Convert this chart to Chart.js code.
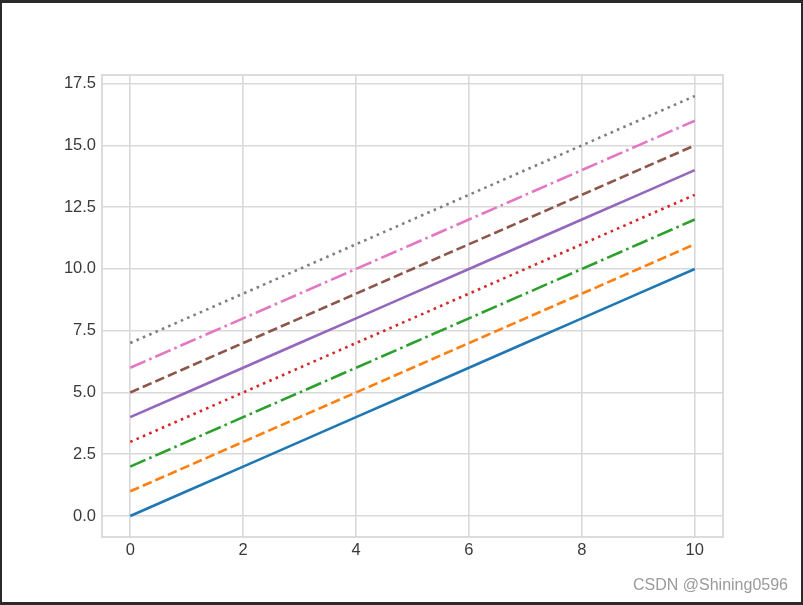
<!DOCTYPE html>
<html lang="en">
<head>
  <meta charset="UTF-8">
  <title>Lines with different styles</title>
  <script src="https://cdn.jsdelivr.net/npm/chart.js"></script>
  <style>
    html, body {
      margin: 0;
      padding: 0;
      background: #ffffff;
    }
    #frame {
      position: relative;
      width: 803px;
      height: 605px;
      box-sizing: border-box;
      border-top: 3px solid #2a2a2a;
      border-left: 2px solid #2a2a2a;
      border-right: 2px solid #2a2a2a;
      border-bottom: 3px solid #2a2a2a;
      overflow: hidden;
    }
    #chart {
      position: absolute;
      left: -2px;
      top: -3px;
    }
    #mark {
      position: absolute;
      right: 13px;
      bottom: 8px;
      font-family: "Liberation Sans", Arial, sans-serif;
      font-size: 16px;
      color: #9a9a9a;
    }
  </style>
</head>
<body>
  <div id="frame">
    <canvas id="chart" width="803" height="605"></canvas>
    <div id="mark">CSDN @Shining0596</div>
  </div>

  <script>
    // x values shared by every line
    const xValues = [0, 1, 2, 3, 4, 5, 6, 7, 8, 9, 10];

    // one series per line
    const line0 = [0, 1, 2, 3, 4, 5, 6, 7, 8, 9, 10];
    const line1 = [1, 2, 3, 4, 5, 6, 7, 8, 9, 10, 11];
    const line2 = [2, 3, 4, 5, 6, 7, 8, 9, 10, 11, 12];
    const line3 = [3, 4, 5, 6, 7, 8, 9, 10, 11, 12, 13];
    const line4 = [4, 5, 6, 7, 8, 9, 10, 11, 12, 13, 14];
    const line5 = [5, 6, 7, 8, 9, 10, 11, 12, 13, 14, 15];
    const line6 = [6, 7, 8, 9, 10, 11, 12, 13, 14, 15, 16];
    const line7 = [7, 8, 9, 10, 11, 12, 13, 14, 15, 16, 17];

    const xTicks = [0, 2, 4, 6, 8, 10];
    const yTicks = [0, 2.5, 5, 7.5, 10, 12.5, 15, 17.5];

    const series = [line0, line1, line2, line3, line4, line5, line6, line7];
    const colors = ["#1f77b4", "#ff7f0e", "#2ca02c", "#d62728", "#9467bd", "#8c564b", "#e377c2", "#7f7f7f"];
    // solid, dashed, dash-dot, dotted (matplotlib patterns, scaled up a bit)
    const dashes = [[], [9.6, 4.1], [16.6, 4.1, 2.6, 4.1], [2.6, 4.3]];

    const datasets = series.map((values, i) => ({
      data: values.map((v, j) => ({ x: xValues[j], y: v })),
      borderColor: colors[i],
      borderWidth: 2.6,
      borderDash: dashes[i % 4],
      borderCapStyle: "butt",
      pointRadius: 0,
      fill: false,
      tension: 0
    }));

    // matplotlib style box around the plot area
    const boxPlugin = {
      id: "box",
      afterDraw(chart) {
        const a = chart.chartArea;
        const ctx = chart.ctx;
        ctx.save();
        ctx.strokeStyle = "#d6d6d6";
        ctx.lineWidth = 1.7;
        ctx.strokeRect(a.left, a.top, a.right - a.left, a.bottom - a.top);
        ctx.restore();
      }
    };

    const tickFont = { family: "'Liberation Sans', Arial, sans-serif", size: 16.5 };

    new Chart(document.getElementById("chart"), {
      type: "line",
      data: { datasets: datasets },
      options: {
        responsive: false,
        animation: false,
        layout: { padding: { left: 0, top: 75, right: 80, bottom: 0 } },
        plugins: {
          legend: { display: false },
          tooltip: { enabled: false }
        },
        scales: {
          x: {
            type: "linear",
            min: -0.5,
            max: 10.5,
            afterBuildTicks: (scale) => { scale.ticks = xTicks.map(v => ({ value: v })); },
            afterFit: (scale) => { scale.height = 68; },
            grid: { color: "#d9d9d9", lineWidth: 1.6, drawTicks: false },
            border: { display: false },
            ticks: { color: "#3a3a3a", font: tickFont, padding: 4, maxRotation: 0 }
          },
          y: {
            type: "linear",
            min: -0.85,
            max: 17.85,
            afterBuildTicks: (scale) => { scale.ticks = yTicks.map(v => ({ value: v })); },
            afterFit: (scale) => { scale.width = 102; },
            grid: { color: "#d9d9d9", lineWidth: 1.6, drawTicks: false },
            border: { display: false },
            ticks: {
              color: "#3a3a3a",
              font: tickFont,
              padding: 6,
              callback: (v) => Number(v).toFixed(1)
            }
          }
        }
      },
      plugins: [boxPlugin]
    });
  </script>
</body>
</html>
